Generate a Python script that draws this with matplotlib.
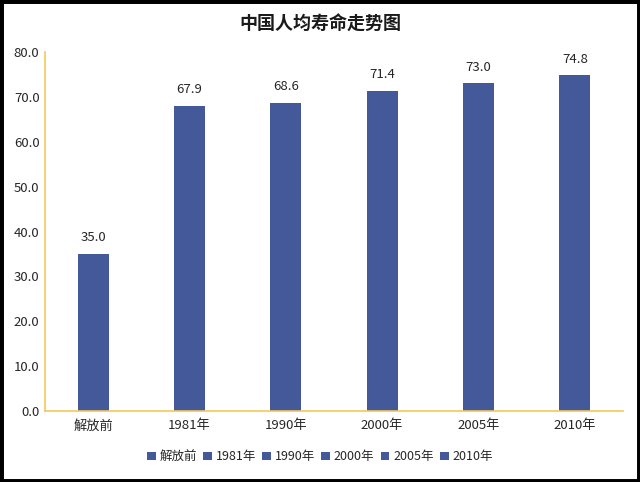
import matplotlib
matplotlib.use("Agg")
import matplotlib.pyplot as plt
from matplotlib.patches import Rectangle, Patch

plt.rcParams['font.family'] = ['Noto Sans CJK SC', 'DejaVu Sans']

categories = ['解放前', '1981年', '1990年', '2000年', '2005年', '2010年']
values = [35.0, 67.9, 68.6, 71.4, 73.0, 74.8]
yticks = [0, 10, 20, 30, 40, 50, 60, 70, 80]
title = '中国人均寿命走势图'

bar_color = '#44599A'
spine_color = '#F2C75C'
text_color = '#262626'

fig = plt.figure(figsize=(6.4, 4.82), dpi=100)
ax = fig.add_axes([0.0703, 0.147, 0.903, 0.745])

x = list(range(len(categories)))
ax.bar(x, values, width=0.32, color=bar_color, zorder=2)
for xi, v in zip(x, values):
    ax.text(xi, v + 2.2, f'{v:.1f}', ha='center', va='bottom', fontsize=9.5, color=text_color)

ax.set_xlim(-0.5, len(categories) - 0.5)
ax.set_ylim(0, 80)
ax.set_yticks(yticks)
ax.set_yticklabels([f'{t:.1f}' for t in yticks], fontsize=9.5, color=text_color)
ax.set_xticks(x)
ax.set_xticklabels(categories, fontsize=9.5, color=text_color)
ax.tick_params(axis='both', length=0, pad=6)
ax.tick_params(axis='y', pad=4)
for s in ['top', 'right']:
    ax.spines[s].set_visible(False)
ax.spines['left'].set_color(spine_color)
ax.spines['bottom'].set_color(spine_color)
ax.spines['left'].set_linewidth(1.2)
ax.spines['bottom'].set_linewidth(1.2)

fig.text(0.5, 0.950, title, ha='center', va='center', fontsize=13, fontweight='bold', color='#1a1a1a')

handles = [Patch(facecolor=bar_color, edgecolor='none') for _ in categories]
fig.legend(handles, categories, loc='center', bbox_to_anchor=(0.5, 0.052), ncol=len(categories),
           frameon=False, fontsize=9, handlelength=0.7, handleheight=0.7, handletextpad=0.3,
           columnspacing=0.5, labelcolor=text_color)

fig.patches.append(Rectangle((0, 0), 1, 1, transform=fig.transFigure, fill=False,
                             edgecolor='black', linewidth=5, zorder=10))

fig.savefig('out.png', dpi=100)
